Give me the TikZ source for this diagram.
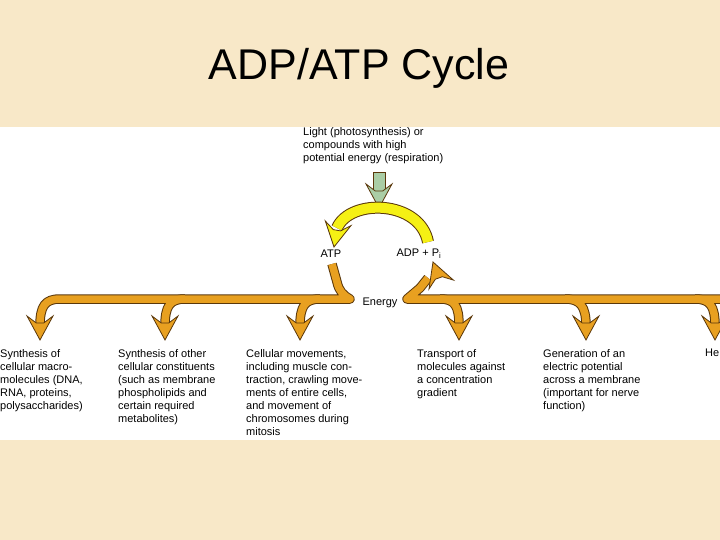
\documentclass[tikz,border=0pt]{standalone}
\usepackage{fontspec}
\setmainfont{Liberation Sans}
\definecolor{bandc}{RGB}{232,160,32}
\definecolor{edgec}{RGB}{90,55,10}
\definecolor{bgc}{RGB}{248,232,200}
\definecolor{greenc}{RGB}{170,205,165}
\definecolor{yelc}{RGB}{245,240,20}
\begin{document}
\begin{tikzpicture}[x=1pt,y=-1pt,
  txt/.style={anchor=north west,align=left,inner sep=0pt,font=\fontsize{11}{13}\selectfont},
  band/.style={line width=9.5pt,draw=edgec},
  bandin/.style={line width=7.5pt,draw=bandc},
  pics/ahead/.style={code={
    \filldraw[fill=#1,draw=edgec,line width=0.8pt,line join=miter]
      (0,0) -- (-13,-24) -- (-3.7,-17) -- (3.7,-17) -- (13,-24) -- cycle;}}]
\useasboundingbox (0,0) rectangle (720,540);
\fill[bgc] (0,0) rectangle (720,540);
\fill[white] (0,127) rectangle (720,440);
\node (title) at (359,68) {\fontsize{43}{48}\selectfont ADP/ATP Cycle};
\node[txt] (src) at (303,127) {Light (photosynthesis) or\\compounds with high\\potential energy (respiration)};
% green arrow
\filldraw[fill=greenc,draw=edgec,line width=0.8pt] (373,172) rectangle (385,192);
\pic at (379,208) {ahead=greenc};
% yellow arc
\draw[line width=12pt,draw=edgec] (428,242) .. controls (420,200) and (350,198) .. (337,228);
\draw[line width=10pt,draw=yelc] (428,242) .. controls (420,200) and (350,198) .. (337,228);
\pic[rotate=-10] at (334,247) {ahead=yelc};
\node (atp) at (331,254) {\fontsize{11}{13}\selectfont ATP};
\node (adp) at (419,254) {\fontsize{11}{13}\selectfont ADP + P$_{\mathrm i}$};
\node (energy) at (380,303) {\fontsize{11}{13}\selectfont Energy};
% orange bands
\foreach \s in {band,bandin}{
  \draw[\s,line join=round] (332,264) -- (337,282) .. controls (339,291) and (343,295) .. (350,299) -- (60,299) .. controls (45,299) and (40,306) .. (40,326);
  \draw[\s] (185,299) .. controls (170,299) and (165,306) .. (165,326);
  \draw[\s] (320,299) .. controls (305,299) and (300,306) .. (300,326);
  \draw[\s,line join=round] (428,278) -- (420,288) -- (407,299) -- (725,299);
  \draw[\s] (440,299) .. controls (455,299) and (459,306) .. (459,326);
  \draw[\s] (565,299) .. controls (580,299) and (586,306) .. (586,326);
  \draw[\s] (695,299) .. controls (710,299) and (715,306) .. (715,326);
}
\foreach \x in {40,165,300,459,586,715}{ \pic at (\x,340) {ahead=bandc}; }
\pic[rotate=200] at (433,262) {ahead=bandc};
% captions
\node[txt] (c1) at (0,349) {Synthesis of\\cellular macro-\\molecules (DNA,\\RNA, proteins,\\polysaccharides)};
\node[txt] (c2) at (118,349) {Synthesis of other\\cellular constituents\\(such as membrane\\phospholipids and\\certain required\\metabolites)};
\node[txt] (c3) at (246,349) {Cellular movements,\\including muscle con-\\traction, crawling move-\\ments of entire cells,\\and movement of\\chromosomes during\\mitosis};
\node[txt] (c4) at (417,349) {Transport of\\molecules against\\a concentration\\gradient};
\node[txt] (c5) at (543,349) {Generation of an\\electric potential\\across a membrane\\(important for nerve\\function)};
\node[txt] (c6) at (705,349) {He};
\end{tikzpicture}
\end{document}
